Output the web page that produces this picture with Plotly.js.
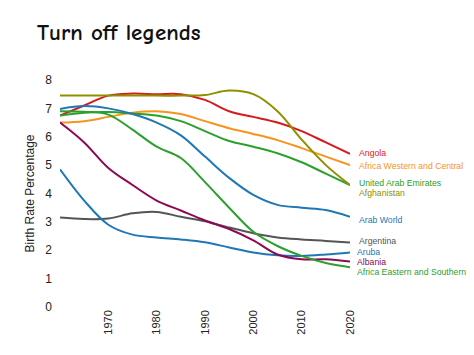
<!DOCTYPE html>
<html><head><meta charset="utf-8">
<script src="https://cdn.plot.ly/plotly-3.0.1.min.js"></script>
<style>html,body{margin:0;padding:0;background:#fff}#chart{width:474px;height:355px}</style>
</head><body><div id="chart"></div>
<script>
const years = [1960,1965,1970,1975,1980,1985,1990,1995,2000,2005,2010,2015,2020];
const names = ["Angola","Africa Western and Central","United Arab Emirates","Afghanistan","Arab World","Argentina","Aruba","Albania","Africa Eastern and Southern"];
const colors = ["#d7191c","#f7941d","#2ca02c","#8f8f00","#1f77b4","#555555","#1f77b4","#8b0a50","#2ca02c"];
const angola = [6.75,7.1,7.45,7.52,7.5,7.5,7.3,6.9,6.7,6.5,6.2,5.8,5.4];
const africaWest = [6.5,6.55,6.7,6.85,6.9,6.8,6.55,6.3,6.1,5.88,5.6,5.3,5.0];
const uae = [6.75,6.85,6.87,6.82,6.75,6.55,6.2,5.85,5.65,5.42,5.1,4.7,4.3];
const afghanistan = [7.45,7.45,7.45,7.45,7.45,7.45,7.47,7.63,7.5,6.9,5.9,5.0,4.3];
const arabWorld = [6.98,7.08,7.0,6.8,6.5,6.05,5.3,4.55,3.95,3.6,3.5,3.42,3.18];
const argentina = [3.15,3.1,3.12,3.3,3.35,3.18,3.02,2.8,2.6,2.45,2.38,2.33,2.27];
const aruba = [4.85,3.75,2.9,2.55,2.45,2.38,2.28,2.1,1.92,1.82,1.8,1.85,1.92];
const albania = [6.5,5.8,4.9,4.3,3.75,3.4,3.05,2.75,2.35,1.85,1.68,1.68,1.6];
const africaEast = [6.9,6.88,6.78,6.25,5.65,5.25,4.4,3.5,2.65,2.15,1.8,1.55,1.4];
const series = [angola,africaWest,uae,afghanistan,arabWorld,argentina,aruba,albania,africaEast];
const labelY = [5.43,4.97,4.37,4.02,3.07,2.33,1.94,1.59,1.23];
const xTicks = [1970,1980,1990,2000,2010,2020];
const yTicks = [0,1,2,3,4,5,6,7,8];

const traces = series.map((s,i)=>({
  x: years, y: s, type:'scatter', mode:'lines', name: names[i],
  line:{color:colors[i], width:2, shape:'spline', smoothing:1}, hoverinfo:'skip'
}));
const annotations = names.map((n,i)=>({
  x: 2020, y: labelY[i], xref:'x', yref:'y', text:n, showarrow:false,
  xanchor:'left', yanchor:'middle', xshift: i>=6 ? 5 : 7,
  font:{family:'Liberation Sans, Arial, sans-serif', size:8.7, color:colors[i]}
}));
const layout = {
  width:474, height:355,
  margin:{l:60, r:124, t:80, b:48},
  paper_bgcolor:'#fff', plot_bgcolor:'#fff',
  showlegend:false,
  title:{text:'Turn off legends', xref:'container', yref:'container', x:37/474, xanchor:'left', y:1-32/355, yanchor:'middle',
    font:{family:'Comic Sans MS, Comic Neue, Lato, sans-serif', size:23, weight:'bold', color:'#111'}},
  xaxis:{range:[1960,2020], tickvals:xTicks, ticktext:xTicks.map(String), tickangle:-90,
    showgrid:false, zeroline:false, showline:false, ticks:'',
    tickfont:{family:'Liberation Sans, Arial, sans-serif', size:11, color:'#222'}},
  yaxis:{range:[0,8], tickvals:yTicks, showgrid:false, zeroline:false, showline:false, ticks:'',
    ticklabelstandoff:7,
    tickfont:{family:'Liberation Sans, Arial, sans-serif', size:12, color:'#222'},
    title:{text:'Birth Rate Percentage', standoff:8, font:{family:'Liberation Sans, Arial, sans-serif', size:12, color:'#222'}}},
  annotations: annotations
};
Plotly.newPlot('chart', traces, layout, {displayModeBar:false, staticPlot:true});
</script></body></html>
